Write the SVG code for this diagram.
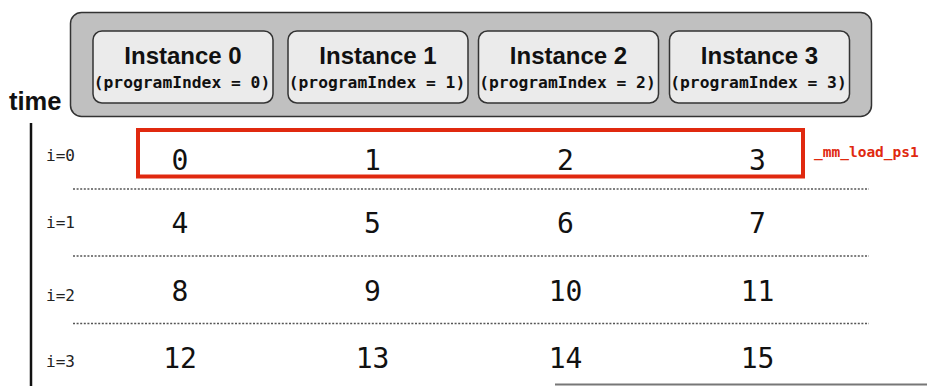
<svg xmlns="http://www.w3.org/2000/svg" width="927" height="386" viewBox="0 0 927 386">
<style>
.inst{fill:#ebebeb;stroke:#333;stroke-width:1.5}
.t1{font-family:"Liberation Sans",Arial,sans-serif;font-weight:bold;font-size:24px;fill:#111;text-anchor:middle}
.t2{font-family:"DejaVu Sans Mono","Liberation Mono",monospace;font-weight:bold;font-size:16.3px;fill:#111;text-anchor:middle}
.num{font-family:"DejaVu Sans Mono","Liberation Mono",monospace;font-size:28px;fill:#111;text-anchor:middle}
.lbl{font-family:"DejaVu Sans Mono","Liberation Mono",monospace;font-size:16px;fill:#222}
.dot{stroke:#555;stroke-width:1.4;stroke-dasharray:2 1.6;fill:none}
</style>
<rect width="927" height="386" fill="#fff"/>
<g id="instances">
<rect x="70.5" y="12.5" width="801" height="104" rx="11" fill="#c0c0c0" stroke="#333" stroke-width="1.5"/>
</g>
<g id="instance0"><rect class="inst" x="93" y="31" width="180" height="72" rx="9"/><text class="t1" x="183" y="63.5">Instance 0</text><text class="t2" x="182" y="87.5">(programIndex = 0)</text></g>
<g id="instance1"><rect class="inst" x="288" y="31" width="180" height="72" rx="9"/><text class="t1" x="378" y="63.5">Instance 1</text><text class="t2" x="377" y="87.5">(programIndex = 1)</text></g>
<g id="instance2"><rect class="inst" x="478.5" y="31" width="180" height="72" rx="9"/><text class="t1" x="568.5" y="63.5">Instance 2</text><text class="t2" x="567.5" y="87.5">(programIndex = 2)</text></g>
<g id="instance3"><rect class="inst" x="669.5" y="31" width="180" height="72" rx="9"/><text class="t1" x="759.5" y="63.5">Instance 3</text><text class="t2" x="758.5" y="87.5">(programIndex = 3)</text></g>
<g id="time">
<text x="9" y="110" font-family="'Liberation Sans',Arial,sans-serif" font-weight="bold" font-size="25.5" fill="#111">time</text>
<line x1="31" y1="123" x2="31" y2="386" stroke="#111" stroke-width="2.5"/>
</g>
<g id="connectors">
<line class="dot" x1="73" y1="189" x2="869" y2="189"/>
<line class="dot" x1="73" y1="256" x2="869" y2="256"/>
<line class="dot" x1="73" y1="323.5" x2="869" y2="323.5"/>
<line x1="555" y1="384.5" x2="927" y2="384.5" stroke="#777" stroke-width="2"/>
</g>
<g id="load">
<rect x="138" y="130" width="665" height="46.5" fill="none" stroke="#e0290f" stroke-width="4"/>
<text x="814" y="157" font-family="'DejaVu Sans Mono','Liberation Mono',monospace" font-weight="bold" font-size="14.5" fill="#e0290f">_mm_load_ps1</text>
</g>
<g id="labels">
<text class="lbl" x="46" y="160.5">i=0</text>
<text class="lbl" x="46" y="227.5">i=1</text>
<text class="lbl" x="46" y="300.5">i=2</text>
<text class="lbl" x="46" y="367">i=3</text>
</g>
<g id="values">
<text class="num" x="180" y="170">0</text><text class="num" x="372.5" y="170">1</text><text class="num" x="565.5" y="170">2</text><text class="num" x="757.5" y="170">3</text>
<text class="num" x="180" y="232.5">4</text><text class="num" x="372.5" y="232.5">5</text><text class="num" x="565.5" y="232.5">6</text><text class="num" x="757.5" y="232.5">7</text>
<text class="num" x="180" y="301">8</text><text class="num" x="372.5" y="301">9</text><text class="num" x="565.5" y="301">10</text><text class="num" x="757.5" y="301">11</text>
<text class="num" x="180" y="368">12</text><text class="num" x="372.5" y="368">13</text><text class="num" x="565.5" y="368">14</text><text class="num" x="757.5" y="368">15</text>
</g>
</svg>
